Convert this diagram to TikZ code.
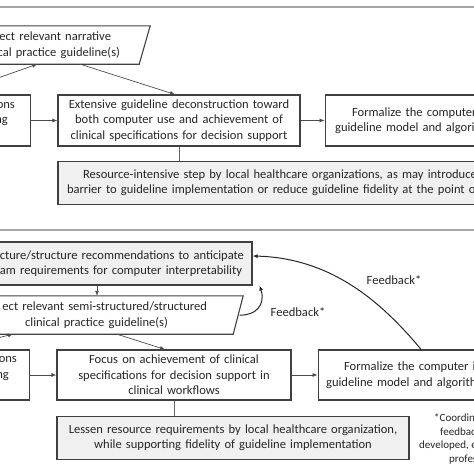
\documentclass[tikz,border=0pt]{standalone}
\usepackage{fontspec}
\setmainfont{Carlito}
\usetikzlibrary{arrows.meta, positioning}

\begin{document}
\begin{tikzpicture}[
  x=1pt, y=-1pt,
  font=\fontsize{12.55}{15.5}\selectfont,
  text=black!85,
  box/.style={draw=black!75, line width=1.1pt, inner xsep=0pt, inner ysep=0pt,
              minimum height=51pt},
  note/.style={box, fill=black!6, minimum height=43pt},
  src/.style={inner xsep=0pt, inner ysep=0pt, minimum height=38pt},
  slant/.style={draw=black!75, line width=1.1pt},
  arr/.style={-{Latex[length=5pt, width=4pt]}, line width=0.7pt, draw=black!70},
  link/.style={line width=0.7pt, draw=black!60},
  fback/.style={-{Latex[length=5pt, width=4pt]}, line width=1pt, draw=black!85},
  panel/.style={draw=black!35, line width=1.1pt}
]
\useasboundingbox (0,0) rectangle (474,474);
\clip (0,0) rectangle (474,474);

% top panel: narrative guidelines
\draw[panel] (-5,7) rectangle (479,230);
\node[box, text width=242pt, align=center] (ext) at (179,120.5)
  {Extensive guideline deconstruction toward\\both computer use and achievement of\\clinical specifications for decision support};
\node[box, text width=160pt, align=right, left=26pt of ext] (def1)
  {ons\hspace{16pt}\mbox{}\\ng\hspace{23pt}\mbox{}\\\mbox{}};
\node[box, text width=200pt, align=left, right=24pt of ext] (form1)
  {\hspace*{27pt}Formalize the computer\\\hspace*{10pt}guideline model and algori};
\node[note, text width=520pt, align=left, below right=14pt and 0pt of ext.south west] (res1)
  {\hspace*{25pt}Resource-intensive step by local healthcare organizations, as may introduce\\\hspace*{9pt}barrier to guideline implementation or reduce guideline fidelity at the point of};
\node[src, text width=204.5pt, align=right] (sel1) at (42.25,45)
  {ect relevant narrative\hspace{33.5pt}\mbox{}\\cal practice guideline(s)\hspace{24.5pt}\mbox{}};
\draw[slant] ([xshift=5.5pt]sel1.north west) -- ([xshift=5.5pt]sel1.north east)
  -- ([xshift=-5.5pt]sel1.south east) -- ([xshift=-5.5pt]sel1.south west) -- cycle;

\draw[arr] (def1.north) -- ([xshift=-5pt]sel1.south);
\draw[arr] ([xshift=38pt]sel1.south) -- ([xshift=-4pt]ext.north);
\draw[arr] (def1) -- (ext);
\draw[arr] (ext) -- (form1);
\draw[link] (ext.south) -- (res1.north -| ext.south);

% bottom panel: semi-structured guidelines
\draw[panel] (-5,230) rectangle (479,480);
\node[box, minimum height=50pt, text width=234pt, align=center] (focus) at (174,375)
  {Focus on achievement of clinical\\specifications for decision support in\\clinical workflows};
\node[box, minimum height=50pt, text width=160pt, align=right, left=26pt of focus] (def2)
  {ons\hspace{13pt}\mbox{}\\ng\hspace{21pt}\mbox{}\\\mbox{}};
\node[box, minimum height=50pt, text width=200pt, align=left, right=26pt of focus] (form2)
  {\hspace*{26pt}Formalize the computer i\\\hspace*{8pt}guideline model and algorith};
\node[note, text width=352pt, align=center, below right=15pt and 0pt of focus.south west] (less)
  {Lessen resource requirements by local healthcare organization,\\while supporting fidelity of guideline implementation};
\node[src, text width=283pt, align=right] (sel2) at (96.5,315)
  {ect relevant semi-structured/structured\hspace{31pt}\mbox{}\\clinical practice guideline(s)\hspace{70pt}\mbox{}};
\draw[slant] ([xshift=5pt]sel2.north west) -- ([xshift=5pt]sel2.north east)
  -- ([xshift=-5pt]sel2.south east) -- ([xshift=-5pt]sel2.south west) -- cycle;
\node[note, text width=310pt, align=right] (goal2) at (97,263.5)
  {cture/structure recommendations to anticipate\hspace{8pt}\mbox{}\\am requirements for computer interpretability\hspace{10pt}\mbox{}};

\node (fb1) at (298,312) {Feedback*};
\node (fb2) at (394,280) {Feedback*};
\node[font=\fontsize{11}{13.4}\selectfont, inner sep=0pt, align=left, anchor=west] (foot) at (419,439)
  {\hspace*{15pt}*Coordin\\\hspace*{21pt}feedbac\\developed, e\\\hspace*{30pt}profes};

\draw[arr] (goal2.south) -- (goal2.south |- sel2.north);
\draw[arr] (def2.north) -- ([xshift=-83.5pt]sel2.south);
\draw[arr] ([xshift=20.5pt]sel2.south) -- ([xshift=-9pt]focus.north);
\draw[arr] (def2) -- (focus);
\draw[arr] (focus) -- (form2);
\draw[link] (focus.south) -- (less.north -| focus.south);
\draw[fback] ([xshift=1.5pt]sel2.east) .. controls (255,316) and (266,305) .. ([xshift=7pt]goal2.south east);
\draw[fback] ([xshift=3pt]form2.north) .. controls (380,300) and (330,258) .. ([yshift=7.5pt]goal2.east);
\end{tikzpicture}
\end{document}
